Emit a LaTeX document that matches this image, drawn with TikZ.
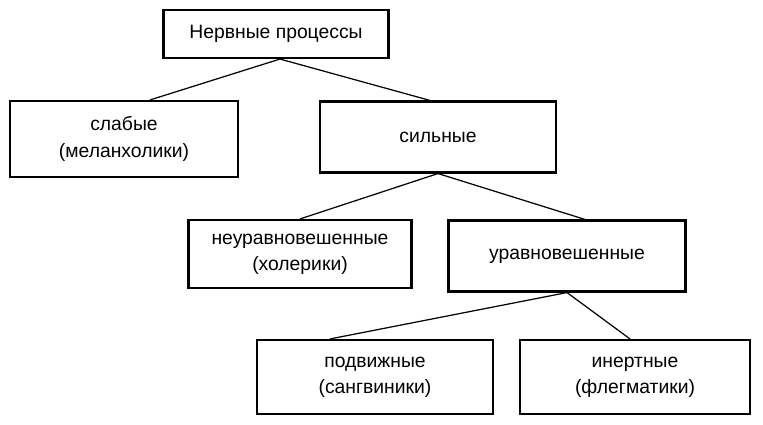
\documentclass[tikz,border=0pt]{standalone}
\usepackage{fontspec}
\setmainfont{Liberation Sans}
\usetikzlibrary{calc}
\begin{document}
\begin{tikzpicture}[x=0.02cm,y=-0.02cm]
      \tikzset{box/.style={draw, line width=1.2pt, inner sep=0pt, align=center, font=\fontsize{11}{15}\selectfont},
               link/.style={line width=0.7pt}}
      \useasboundingbox (0,0) rectangle (763,425);
%% Boxes
      	\node[box, minimum width=225*0.02cm, minimum height=48*0.02cm] (nerv) at (276,34) {Нервные процессы};
      	\node[box, minimum width=228*0.02cm, minimum height=76*0.02cm] (weak) at (124,139) {слабые\\(меланхолики)};
      	\node[box, minimum width=236*0.02cm, minimum height=71*0.02cm] (strong) at (438,137) {сильные};
      	\node[box, minimum width=223*0.02cm, minimum height=68*0.02cm] (unbal) at (300,254) {неуравновешенные\\(холерики)};
      	\node[box, minimum width=237*0.02cm, minimum height=71*0.02cm] (bal) at (567,256) {уравновешенные};
      	\node[box, minimum width=236*0.02cm, minimum height=74*0.02cm] (mobile) at (375,377) {подвижные\\(сангвиники)};
      	\node[box, minimum width=230*0.02cm, minimum height=74*0.02cm] (inert) at (635,377) {инертные\\(флегматики)};
%Edges
		\draw[link] ($(nerv.south)+(4,0)$) -- ($(weak.north)+(26,0)$);
		\draw[link] ($(nerv.south)+(4,0)$) -- ($(strong.north)-(8,0)$);
		\draw[link] (strong.south) -- (unbal.north);
		\draw[link] (strong.south) -- ($(bal.north)+(18,0)$);
		\draw[link] (bal.south) -- ($(mobile.north)-(45,0)$);
		\draw[link] (bal.south) -- ($(inert.north)-(5,0)$);
\end{tikzpicture}
\end{document}
